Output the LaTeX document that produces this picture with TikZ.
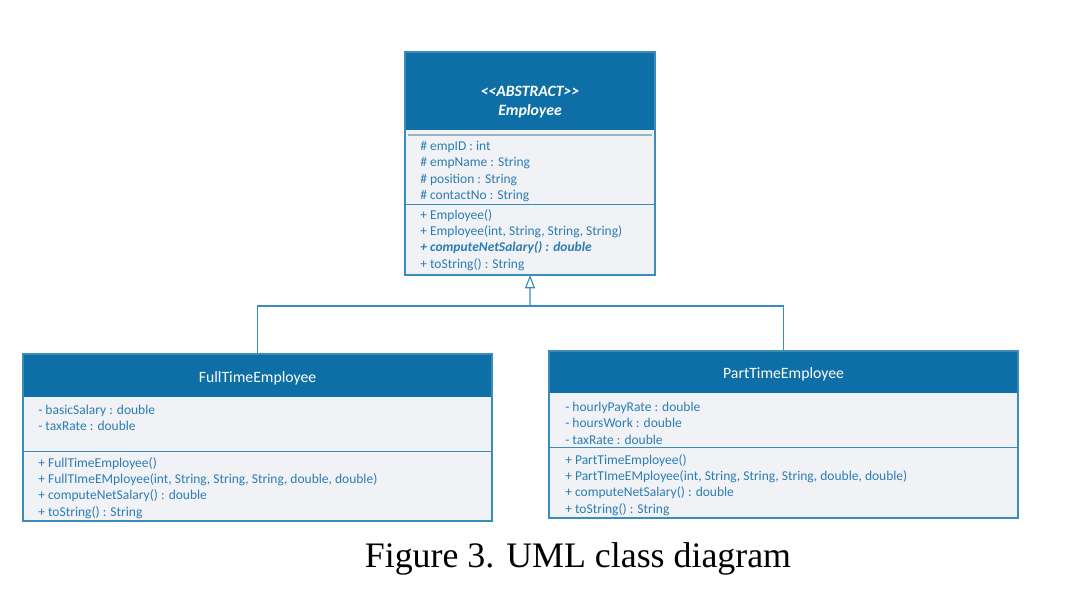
\documentclass[tikz,border=0pt]{standalone}
\usepackage{fontspec}
\setmainfont{Liberation Serif}
\newfontfamily\umlfont{Carlito}
\usetikzlibrary{arrows.meta,positioning}

\definecolor{headblue}{HTML}{0E6FA7}
\definecolor{lineblue}{HTML}{3A8DBA}
\definecolor{textblue}{HTML}{2C7DB5}
\definecolor{bodygray}{HTML}{F0F2F5}
\definecolor{sepgray}{HTML}{9AB3C4}

\begin{document}
\begin{tikzpicture}[
    x=0.025cm, y=-0.025cm,
    headbox/.style = {
      shape=rectangle,
      fill=headblue,
      anchor=north west,
      inner sep=0pt,
      outer sep=0pt
    },
    bodybox/.style = {
      shape=rectangle,
      fill=bodygray,
      inner sep=0pt,
      outer sep=0pt
    },
    title/.style = {
      text=white,
      font=\umlfont\fontsize{11.2pt}{13.5pt}\selectfont,
      align=center
    },
    members/.style = {
      anchor=north west,
      inner sep=0pt,
      align=left,
      text=textblue,
      font=\umlfont\fontsize{9.6pt}{11.6pt}\selectfont
    },
    frame/.style = {
      draw=lineblue,
      line width=1pt
    },
    sep/.style = {
      draw=lineblue,
      line width=0.7pt
    },
    inherit/.style = {
      draw=lineblue,
      line width=0.8pt,
      -{Triangle[open, length=0.33cm, width=0.25cm]}
    }
  ]

    \useasboundingbox (0,0) rectangle (1080,608);

    % Abstract class on top
    \node[headbox, minimum width=6.25cm, minimum height=1.95cm] (empHead) at (405,52) {};
    \node[bodybox, minimum width=6.25cm, minimum height=3.625cm, below=0pt of empHead] (empBody) {};
    \node[title, font=\umlfont\bfseries\itshape\fontsize{11.2pt}{13.5pt}\selectfont] (empTitle) at (530,102.5)
      {<<ABSTRACT>>\\Employee};
    \draw[draw=sepgray, line width=0.8pt] (408,135) -- (652,135);
    \node[members] (empAttr) at (420,141) {\# empID : int\\\# empName : String\\\# position : String\\\# contactNo : String};
    \draw[sep] (405,204) -- (655,204);
    \node[members] (empOps) at (420,209) {+ Employee()\\+ Employee(int, String, String, String)\\\textbf{\itshape + computeNetSalary() : double}\\+ toString() : String};
    \draw[frame] (empHead.north west) rectangle (empBody.south east);

    % Left subclass
    \node[headbox, minimum width=11.725cm, minimum height=1.075cm] (ftHead) at (23,354) {};
    \node[bodybox, minimum width=11.725cm, minimum height=3.1cm, below=0pt of ftHead] (ftBody) {};
    \node[title, yshift=-0.06cm] (ftTitle) at (ftHead.center) {FullTimeEmployee};
    \node[members] (ftAttr) at (38,405) {- basicSalary : double\\- taxRate : double};
    \draw[sep] (23,451) -- (492,451);
    \node[members] (ftOps) at (38,457) {+ FullTimeEmployee()\\+ FullTImeEMployee(int, String, String, String, double, double)\\+ computeNetSalary() : double\\+ toString() : String};
    \draw[frame] (ftHead.north west) rectangle (ftBody.south east);

    % Right subclass
    \node[headbox, minimum width=11.725cm, minimum height=1.05cm] (ptHead) at (549,351) {};
    \node[bodybox, minimum width=11.725cm, minimum height=3.125cm, below=0pt of ptHead] (ptBody) {};
    \node[title, yshift=-0.06cm] (ptTitle) at (ptHead.center) {PartTimeEmployee};
    \node[members] (ptAttr) at (565,402) {- hourlyPayRate : double\\- hoursWork : double\\- taxRate : double};
    \draw[sep] (549,447) -- (1018,447);
    \node[members] (ptOps) at (565,454) {+ PartTimeEmployee()\\+ PartTImeEMployee(int, String, String, String, double, double)\\+ computeNetSalary() : double\\+ toString() : String};
    \draw[frame] (ptHead.north west) rectangle (ptBody.south east);

    % Generalization
    \coordinate (split) at (530,306);
    \draw[sep, line width=0.8pt] (ftHead.north) |- (split) -| (ptHead.north);
    \draw[inherit] (split) -- (empBody.south);

    % Caption
    \node[anchor=base, inner sep=0pt, font=\fontsize{25.5pt}{30pt}\selectfont] (caption) at (578,567)
      {Figure 3. UML class diagram};

  \end{tikzpicture}
\end{document}
